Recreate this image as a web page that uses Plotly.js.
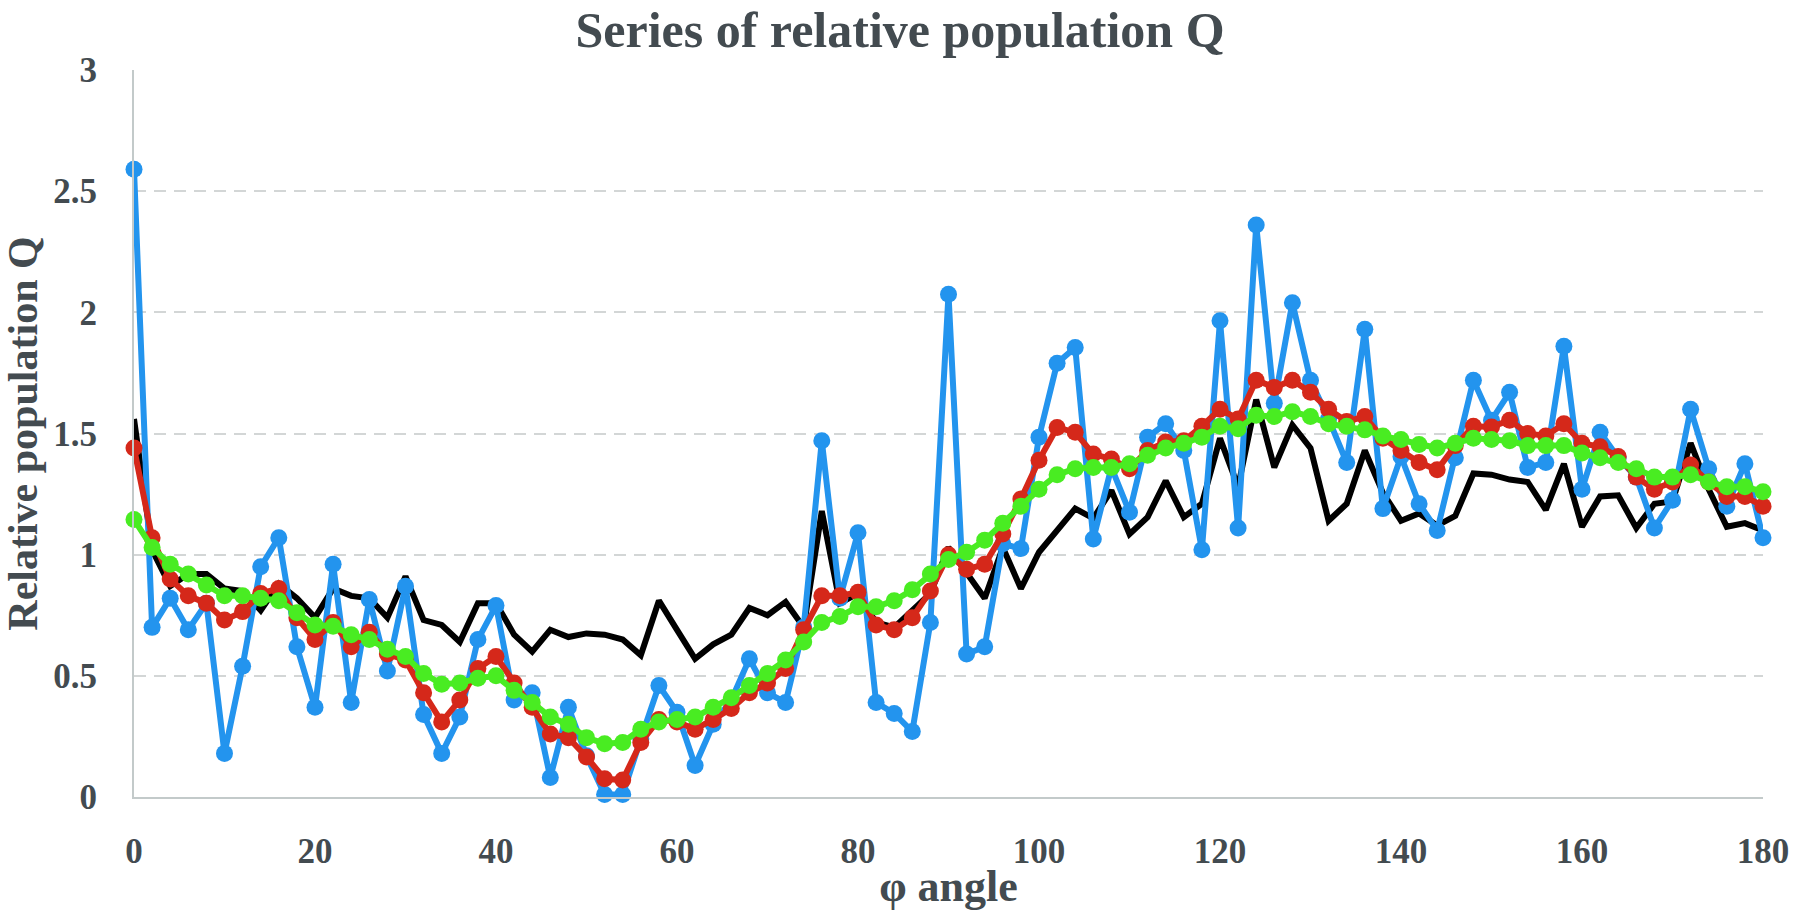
<!DOCTYPE html>
<html>
<head>
<meta charset="utf-8">
<script src="https://cdn.plot.ly/plotly-3.0.1.min.js"></script>
<style>
  html, body { margin: 0; padding: 0; background: #ffffff; }
  #chart { width: 1800px; height: 911px; }
</style>
</head>
<body>
<div id="chart"></div>
<script>
// phi angle, 0..180 step 2
const phiAngle = [
  0, 2, 4, 6, 8, 10, 12, 14, 16, 18, 20, 22, 24, 26, 28, 30, 32, 34, 36, 38,
  40, 42, 44, 46, 48, 50, 52, 54, 56, 58, 60, 62, 64, 66, 68, 70, 72, 74, 76, 78,
  80, 82, 84, 86, 88, 90, 92, 94, 96, 98, 100, 102, 104, 106, 108, 110, 112, 114, 116, 118,
  120, 122, 124, 126, 128, 130, 132, 134, 136, 138, 140, 142, 144, 146, 148, 150, 152, 154, 156, 158,
  160, 162, 164, 166, 168, 170, 172, 174, 176, 178, 180
];

// black line (no markers)
const blackSeries = [
  1.56, 1.02, 0.87, 0.92, 0.92, 0.86, 0.85, 0.77, 0.88, 0.82, 0.74, 0.86, 0.83, 0.82, 0.74, 0.91, 0.73, 0.71, 0.64, 0.80,
  0.80, 0.67, 0.60, 0.69, 0.66, 0.675, 0.67, 0.65, 0.585, 0.81, 0.69, 0.57, 0.63, 0.67, 0.78, 0.75, 0.805, 0.70, 1.18, 0.80,
  0.84, 0.72, 0.70, 0.77, 0.84, 1.03, 0.93, 0.82, 1.03, 0.86, 1.01, 1.10, 1.19, 1.15, 1.265, 1.085, 1.155, 1.305, 1.155, 1.21,
  1.48, 1.28, 1.64, 1.36, 1.535, 1.44, 1.14, 1.21, 1.43, 1.255, 1.14, 1.17, 1.12, 1.16, 1.335, 1.33, 1.31, 1.30, 1.185, 1.375,
  1.115, 1.24, 1.245, 1.11, 1.21, 1.22, 1.46, 1.27, 1.115, 1.13, 1.10
];

// blue line with markers
const blueSeries = [
  2.59, 0.70, 0.82, 0.69, 0.80, 0.18, 0.54, 0.95, 1.07, 0.62, 0.37, 0.96, 0.39, 0.815, 0.52, 0.87, 0.34, 0.18, 0.33, 0.65,
  0.79, 0.40, 0.43, 0.08, 0.37, 0.17, 0.01, 0.01, 0.24, 0.46, 0.35, 0.13, 0.30, 0.40, 0.57, 0.43, 0.39, 0.70, 1.47, 0.82,
  1.09, 0.39, 0.345, 0.27, 0.72, 2.075, 0.59, 0.62, 1.045, 1.025, 1.485, 1.79, 1.855, 1.065, 1.36, 1.175, 1.485, 1.54, 1.43, 1.02,
  1.965, 1.11, 2.36, 1.625, 2.04, 1.72, 1.56, 1.38, 1.93, 1.19, 1.405, 1.21, 1.10, 1.40, 1.72, 1.555, 1.67, 1.36, 1.38, 1.86,
  1.27, 1.505, 1.40, 1.32, 1.11, 1.225, 1.60, 1.355, 1.20, 1.375, 1.07
];

// red line with markers
const redSeries = [
  1.44, 1.07, 0.90, 0.83, 0.80, 0.73, 0.765, 0.84, 0.86, 0.74, 0.65, 0.72, 0.62, 0.68, 0.59, 0.565, 0.43, 0.31, 0.40, 0.53,
  0.58, 0.47, 0.37, 0.26, 0.245, 0.165, 0.075, 0.07, 0.225, 0.32, 0.31, 0.28, 0.32, 0.365, 0.43, 0.47, 0.53, 0.69, 0.83, 0.83,
  0.845, 0.71, 0.69, 0.74, 0.85, 1.00, 0.94, 0.96, 1.085, 1.23, 1.39, 1.525, 1.505, 1.415, 1.395, 1.355, 1.43, 1.465, 1.47, 1.53,
  1.60, 1.56, 1.72, 1.69, 1.72, 1.67, 1.60, 1.55, 1.57, 1.48, 1.43, 1.38, 1.35, 1.45, 1.53, 1.527, 1.555, 1.50, 1.49, 1.54,
  1.46, 1.445, 1.405, 1.32, 1.27, 1.30, 1.37, 1.30, 1.24, 1.24, 1.20
];

// green line with markers
const greenSeries = [
  1.145, 1.03, 0.96, 0.92, 0.875, 0.83, 0.83, 0.82, 0.81, 0.76, 0.71, 0.705, 0.67, 0.65, 0.61, 0.58, 0.51, 0.465, 0.47, 0.49,
  0.50, 0.44, 0.39, 0.33, 0.30, 0.245, 0.22, 0.225, 0.28, 0.31, 0.32, 0.33, 0.37, 0.41, 0.46, 0.51, 0.565, 0.64, 0.72, 0.745,
  0.785, 0.785, 0.81, 0.855, 0.92, 0.98, 1.01, 1.06, 1.13, 1.20, 1.27, 1.33, 1.355, 1.36, 1.36, 1.375, 1.41, 1.44, 1.46, 1.485,
  1.53, 1.52, 1.575, 1.57, 1.59, 1.57, 1.54, 1.53, 1.515, 1.49, 1.475, 1.455, 1.44, 1.46, 1.48, 1.475, 1.47, 1.45, 1.45, 1.45,
  1.42, 1.40, 1.38, 1.355, 1.32, 1.32, 1.33, 1.30, 1.28, 1.28, 1.26
];

const xTicks = [0, 20, 40, 60, 80, 100, 120, 140, 160, 180];

const serif = '"Liberation Serif", "Times New Roman", serif';
const textColor = '#434b50';

// trace 하나 만들기
function makeTrace(y, color, withMarkers) {
  return {
    x: phiAngle,
    y: y,
    type: 'scatter',
    mode: withMarkers ? 'lines+markers' : 'lines',
    line: { color: color, width: 6 },
    marker: { color: color, size: 17 },
    cliponaxis: false,
    hoverinfo: 'skip'
  };
}

const data = [
  makeTrace(blackSeries, '#000000', false),
  makeTrace(blueSeries, '#2394ee', true),
  makeTrace(redSeries, '#d5281a', true),
  makeTrace(greenSeries, '#49ec22', true)
];

const layout = {
  width: 1800,
  height: 911,
  margin: { l: 134, r: 37, t: 70, b: 114 },
  paper_bgcolor: '#ffffff',
  plot_bgcolor: '#ffffff',
  showlegend: false,
  title: {
    text: '<b>Series of relative population Q</b>',
    font: { family: serif, size: 50, color: textColor },
    x: 0.5, xref: 'container', xanchor: 'center',
    y: 0.968, yref: 'container', yanchor: 'middle'
  },
  xaxis: {
    range: [0, 180],
    tickvals: xTicks,
    ticktext: xTicks.map(v => '<b>' + v + '</b>'),
    showgrid: false,
    zeroline: false,
    showline: true,
    linecolor: '#c3caca',
    linewidth: 2,
    ticks: '',
    ticklabelstandoff: 22,
    tickfont: { family: serif, size: 35, color: textColor },
    title: {
      text: '<b>φ angle</b>',
      font: { family: serif, size: 44, color: textColor },
      standoff: 14
    }
  },
  yaxis: {
    range: [0, 3],
    dtick: 0.5,
    tick0: 0,
    showgrid: true,
    gridcolor: '#d3d6d6',
    gridwidth: 2,
    griddash: '12px,8px',
    zeroline: false,
    showline: true,
    linecolor: '#c3caca',
    linewidth: 2,
    ticks: '',
    ticklabelstandoff: 28,
    tickfont: { family: serif, size: 35, color: textColor },
    tickprefix: '<b>',
    ticksuffix: '</b>',
    title: {
      text: '<b>Relative population Q</b>',
      font: { family: serif, size: 42, color: textColor },
      standoff: 10
    }
  }
};

Plotly.newPlot('chart', data, layout, { displayModeBar: false, staticPlot: true });
</script>
</body>
</html>
